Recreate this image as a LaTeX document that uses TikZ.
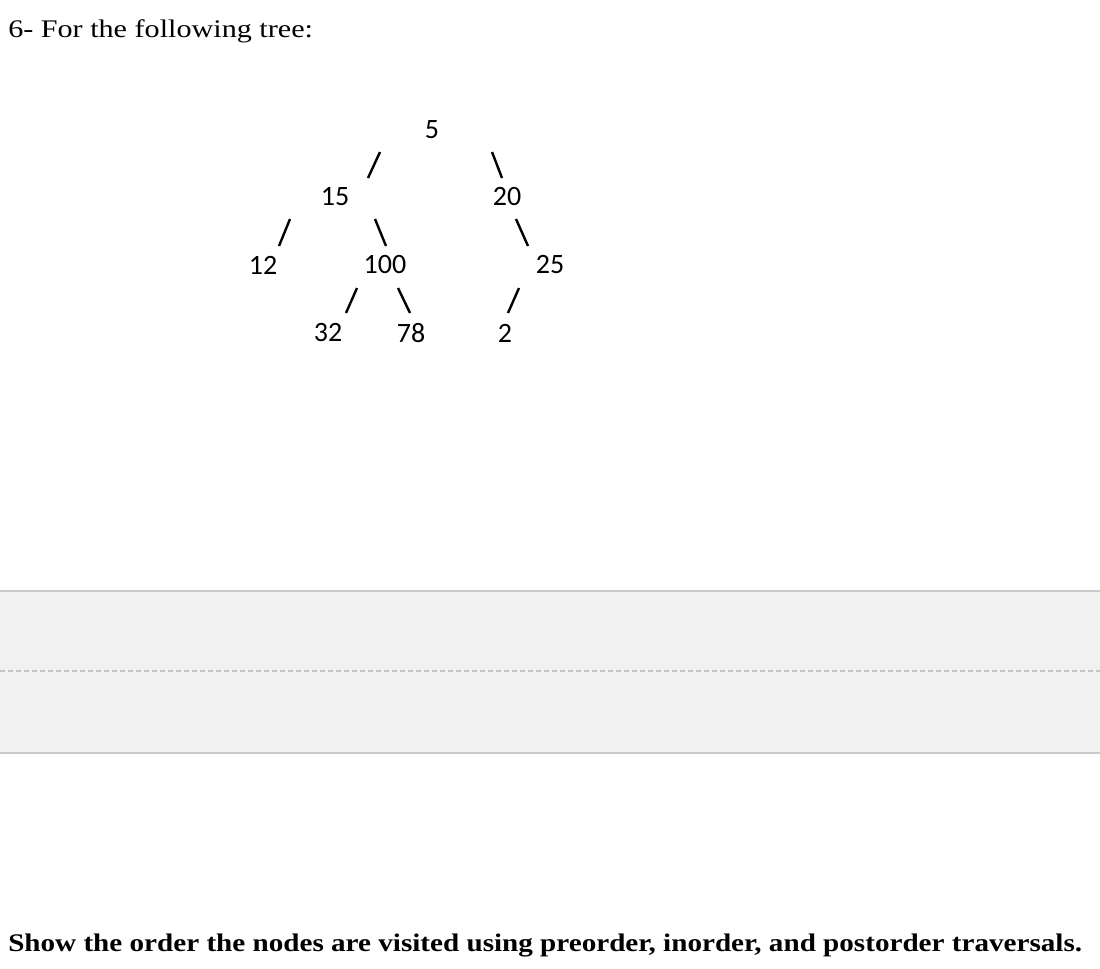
\documentclass[tikz,border=0pt]{standalone}
\usepackage{fontspec}
\setmainfont{Liberation Serif}[FakeStretch=1.19, BoldFeatures={FakeStretch=1.15}]
\newfontfamily\treefont{Carlito}
\usetikzlibrary{calc}
\definecolor{bandfill}{RGB}{241,241,241}
\definecolor{bandline}{RGB}{201,201,206}
\definecolor{bandrule}{RGB}{196,196,196}
\tikzset{
  key/.style={inner sep=0pt, font=\treefont\fontsize{21}{24}\selectfont},
  edge/.style={line width=1.8pt},
}
\begin{document}
\begin{tikzpicture}[x=0.75pt, y=-0.75pt]
            \useasboundingbox (0, 0) rectangle (1100, 968);
            %\draw[lightgray] (0, 0) grid[step=100] (1100, 968);
            \node[anchor=base west, inner sep=0pt, font=\fontsize{19}{23}\selectfont] (question) at (8, 37) {6- For the following tree:};
            \node[key] (key-5) at (432, 130) {5};
            \node[key] (key-15) at (335, 197) {15};
            \node[key] (key-20) at (507, 197) {20};
            \node[key] (key-12) at (263, 265) {12};
            \node[key] (key-100) at (385, 265) {100};
            \node[key] (key-25) at (550, 265) {25};
            \node[key] (key-32) at (328, 333) {32};
            \node[key] (key-78) at (411, 333) {78};
            \node[key] (key-2) at (505, 333) {2};
            \draw[edge] ($(key-5)+(-52, 22)$) -- ($(key-15)+(33, -19)$);
            \draw[edge] ($(key-5)+(60, 22)$) -- ($(key-20)+(-5, -19)$);
            \draw[edge] ($(key-15)+(-45, 22)$) -- ($(key-12)+(16, -19)$);
            \draw[edge] ($(key-15)+(40, 22)$) -- ($(key-100)+(1, -19)$);
            \draw[edge] ($(key-20)+(9, 22)$) -- ($(key-25)+(-22, -19)$);
            \draw[edge] ($(key-100)+(-28, 23)$) -- ($(key-32)+(18, -20)$);
            \draw[edge] ($(key-100)+(13, 23)$) -- ($(key-78)+(-1, -20)$);
            \draw[edge] ($(key-25)+(-31, 23)$) -- ($(key-2)+(3, -20)$);
            % answer band
            \fill[bandfill] (0, 591) rectangle (1100, 753);
            \draw[bandline, line width=1.5pt] (0, 591) -- (1100, 591);
            \draw[bandline, line width=1.5pt] (0, 753) -- (1100, 753);
            \draw[bandrule, line width=1.3pt, dash pattern=on 4pt off 2pt] (0, 671) -- (1100, 671);
            \node[anchor=base west, inner sep=0pt, font=\bfseries\fontsize{19}{23}\selectfont] (task) at (8, 951) {Show the order the nodes are visited using preorder, inorder, and postorder traversals.};
        \end{tikzpicture}
\end{document}
